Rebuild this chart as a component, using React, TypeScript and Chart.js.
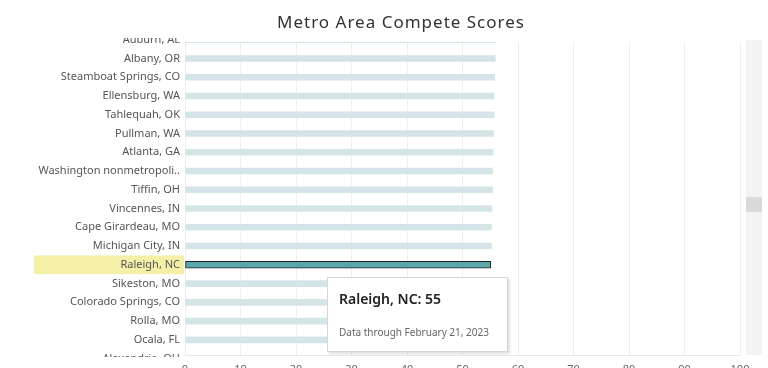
import React, { useEffect, useRef } from "react";
import { Chart, registerables } from "chart.js";

Chart.register(...registerables);

const title = "Metro Area Compete Scores";
const categories = [
  "Auburn, AL",
  "Albany, OR",
  "Steamboat Springs, CO",
  "Ellensburg, WA",
  "Tahlequah, OK",
  "Pullman, WA",
  "Atlanta, GA",
  "Washington nonmetropoli..",
  "Tiffin, OH",
  "Vincennes, IN",
  "Cape Girardeau, MO",
  "Michigan City, IN",
  "Raleigh, NC",
  "Sikeston, MO",
  "Colorado Springs, CO",
  "Rolla, MO",
  "Ocala, FL",
  "Alexandria, OH",
];
const scores = [
  56.0, 55.9, 55.8, 55.7, 55.7, 55.6, 55.5, 55.4, 55.4, 55.3, 55.2, 55.2, 55.1,
  55.0, 54.9, 54.9, 54.8, 54.7,
];
const highlighted = "Raleigh, NC";
const tooltipTitle = "Raleigh, NC: 55";
const tooltipNote = "Data through February 21, 2023";
const xMin = 0;
const xMax = 100;
const xStep = 10;

const FONT = "'Noto Sans', sans-serif";

export default function App() {
  const ref = useRef<HTMLCanvasElement>(null);

  useEffect(() => {
    if (!ref.current) return;
    const hiIdx = categories.indexOf(highlighted);
    const normalPts = categories
      .map((c, i) => ({ x: scores[i], y: i }))
      .filter((p) => p.y !== hiIdx);
    const hiPts = [{ x: scores[hiIdx], y: hiIdx }];

    const labelPlugin = {
      id: "catLabels",
      beforeDatasetsDraw(chart: any) {
        const ctx = chart.ctx;
        const ys = chart.scales.y;
        const ca = chart.chartArea;
        const yc = ys.getPixelForValue(hiIdx);
        const step = Math.abs(ys.getPixelForValue(1) - ys.getPixelForValue(0));
        ctx.save();
        ctx.fillStyle = "#f4f0a8";
        ctx.fillRect(34, yc - step / 2, ca.left - 1 - 34, step);
        ctx.restore();
      },
      afterDraw(chart: any) {
        const ctx = chart.ctx;
        const ys = chart.scales.y;
        const ca = chart.chartArea;
        ctx.save();
        ctx.font = `17px ${FONT}`;
        ctx.fillStyle = "#333333";
        ctx.textAlign = "center";
        ctx.textBaseline = "alphabetic";
        try {
          (ctx as any).letterSpacing = "1px";
        } catch (e) {}
        ctx.fillText(title, 401, 28);
        ctx.restore();

        ctx.save();
        ctx.beginPath();
        ctx.rect(0, ca.top - 4, ca.left - 2, ca.bottom - ca.top + 6);
        ctx.clip();
        ctx.font = `11px ${FONT}`;
        ctx.fillStyle = "#555555";
        ctx.textAlign = "right";
        ctx.textBaseline = "middle";
        categories.forEach((c, i) => {
          ctx.fillText(c, ca.left - 5, ys.getPixelForValue(i));
        });
        ctx.restore();
      },
    };

    const chart = new Chart(ref.current, {
      type: "bar",
      data: {
        datasets: [
          {
            data: normalPts as any,
            backgroundColor: "#d5e5e7",
            borderWidth: 0,
            barThickness: 6,
            grouped: false,
          } as any,
          {
            data: hiPts as any,
            backgroundColor: "#5aa7ab",
            borderColor: "#222222",
            borderWidth: 1,
            borderSkipped: false,
            barThickness: 7,
            grouped: false,
          } as any,
        ],
      },
      options: {
        indexAxis: "y",
        animation: false,
        responsive: false,
        layout: { padding: { top: 42, right: 28, left: 0, bottom: 0 } },
        plugins: {
          legend: { display: false },
          tooltip: { enabled: false },
          title: { display: false },
        },
        scales: {
          x: {
            type: "linear",
            min: xMin,
            max: xMax,
            offset: false,
            ticks: {
              stepSize: xStep,
              color: "#666666",
              font: { size: 11, family: FONT },
              padding: 8,
            },
            grid: { color: "#efefef", drawTicks: false, offset: false },
            border: { color: "#e8e8e8" },
            afterFit(s: any) {
              s.height = 35;
            },
          },
          y: {
            type: "linear",
            reverse: true,
            offset: false,
            min: 0.12,
            max: 16.81,
            ticks: { display: false },
            grid: { display: false, offset: false },
            border: { display: false },
            afterFit(s: any) {
              s.width = 185;
            },
          },
        },
      } as any,
      plugins: [labelPlugin],
    });
    return () => chart.destroy();
  }, []);

  return (
    <div
      style={{
        position: "fixed",
        left: 0,
        top: 0,
        width: 768,
        height: 368,
        overflow: "hidden",
        background: "#ffffff",
      }}
    >
      <canvas ref={ref} width={768} height={390} style={{ display: "block" }} />
      <div
        style={{
          position: "absolute",
          left: 746,
          top: 40,
          width: 16,
          height: 315,
          background: "#f3f3f3",
        }}
      >
        <div
          style={{
            position: "absolute",
            left: 0,
            top: 157,
            width: 16,
            height: 15,
            background: "#dadada",
          }}
        />
      </div>
      <div
        style={{
          position: "absolute",
          left: 327,
          top: 277,
          width: 179,
          height: 73,
          background: "#ffffff",
          border: "1px solid #d6d6d6",
          boxShadow: "2px 2px 2px rgba(0,0,0,0.12)",
          fontFamily: FONT,
        }}
      >
        <div
          style={{
            position: "absolute",
            left: 11,
            top: 11,
            fontSize: 14,
            fontWeight: 600,
            color: "#222222",
            whiteSpace: "nowrap",
          }}
        >
          {tooltipTitle}
        </div>
        <div
          style={{
            position: "absolute",
            left: 11,
            top: 47,
            fontSize: 10,
            color: "#666666",
            whiteSpace: "nowrap",
          }}
        >
          {tooltipNote}
        </div>
      </div>
    </div>
  );
}
